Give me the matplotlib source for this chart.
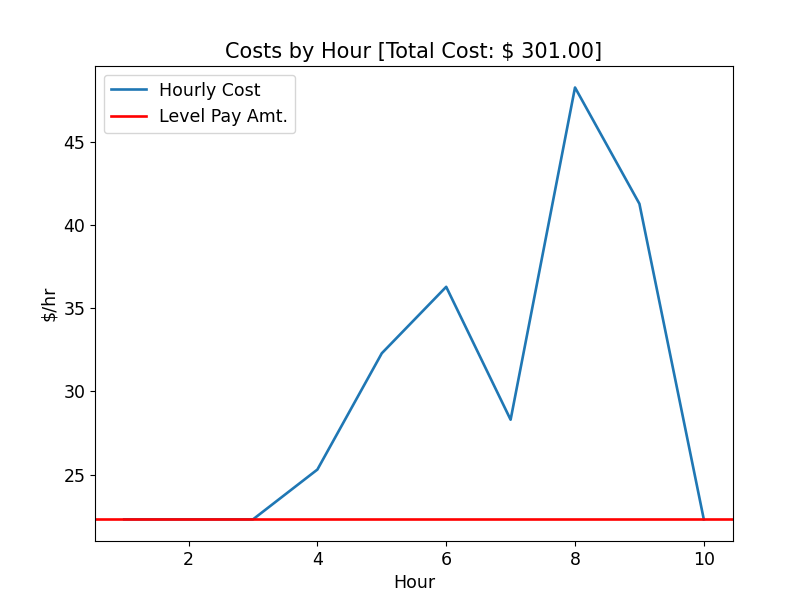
import matplotlib
matplotlib.use("Agg")
import matplotlib.pyplot as plt

hours = [1, 2, 3, 4, 5, 6, 7, 8, 9, 10]
costs = [22.3, 22.3, 22.3, 25.3, 32.3, 36.3, 28.3, 48.3, 41.3, 22.3]
level_pay = 22.3
total = sum(costs)

plt.rcParams['font.size'] = 12.5
fig = plt.figure(figsize=(8, 6.13), dpi=100)
ax = fig.add_axes([0.119, 0.1175, 0.797, 0.775])
ax.plot(hours, costs, label="Hourly Cost", linewidth=1.9)
ax.axhline(level_pay, color="red", label="Level Pay Amt.", linewidth=1.9)
ax.set_title(f"Costs by Hour [Total Cost: $ {total:.2f}]", fontsize=15)
ax.set_xlabel("Hour")
ax.set_ylabel("$/hr")
ax.legend(loc="upper left")
fig.savefig("out.png")
